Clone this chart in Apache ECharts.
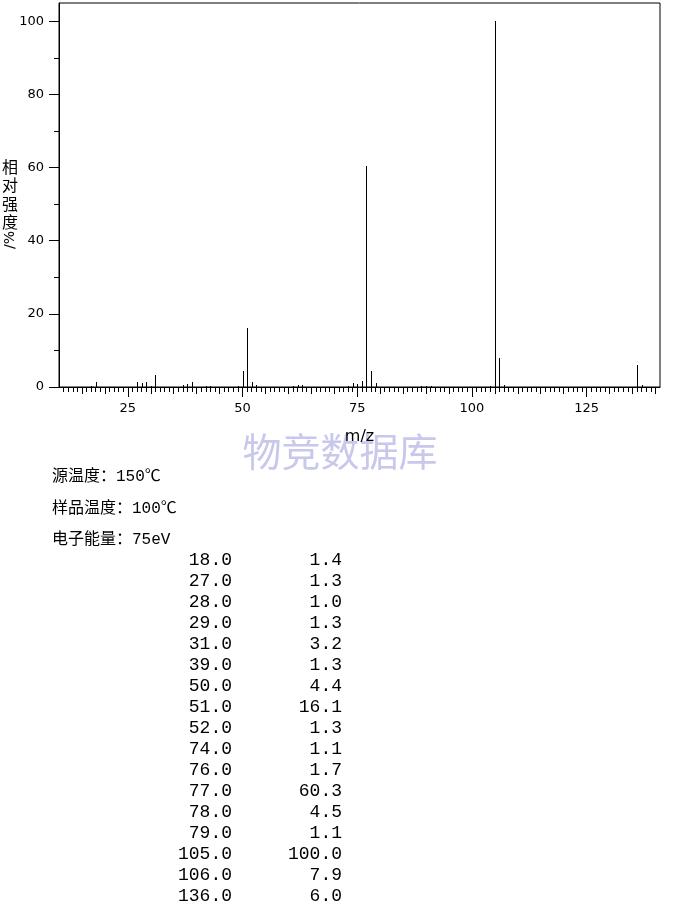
<!DOCTYPE html>
<html>
<head>
<meta charset="utf-8">
<script src="https://cdn.jsdelivr.net/npm/echarts@6/dist/echarts.min.js"></script>
<style>
html,body{margin:0;padding:0;background:#fff;}
#chart{width:680px;height:907px;}
</style>
</head>
<body>
<div id="chart"></div>
<script>
// Listed peaks (m/z, relative intensity %)
const tableMz = [18.0, 27.0, 28.0, 29.0, 31.0, 39.0, 50.0, 51.0, 52.0, 74.0, 76.0, 77.0, 78.0, 79.0, 105.0, 106.0, 136.0];
const tableIntensity = [1.4, 1.3, 1.0, 1.3, 3.2, 1.3, 4.4, 16.1, 1.3, 1.1, 1.7, 60.3, 4.5, 1.1, 100.0, 7.9, 6.0];
// Small peaks visible in the spectrum but not listed
const minorMz = [17, 30, 37, 38, 42, 43, 49, 53, 61, 62, 63, 73, 75, 89, 90, 91, 104, 107, 137];
const minorIntensity = [0.4, 0.4, 0.6, 0.8, 0.4, 0.4, 0.4, 0.5, 0.3, 0.6, 0.5, 0.4, 0.7, 0.3, 0.4, 0.4, 0.4, 0.5, 0.5];
// Axis ticks
const xMajorTicks = [25, 50, 75, 100, 125];
const yMajorTicks = [0, 20, 40, 60, 80, 100];
const yMinorTicks = [10, 30, 50, 70, 90];
const xMin = 10, xMax = 141, yMin = 0, yMax = 105;
// Texts
const yName = ['相', '对', '强', '度'];
const yNameUnit = '/%';
const infoLines = ['源温度：150℃', '样品温度：100℃', '电子能量：75eV'];
const watermark = '物竞数据库';

const xMidTicks = [], xMinorTicks = [];
for (let v = xMin + 1; v < xMax; v++) {
  if (v % 25 === 0) continue;
  if (v % 5 === 0) xMidTicks.push(v); else xMinorTicks.push(v);
}

const peaks = [];
tableMz.forEach((m, i) => peaks.push([m, tableIntensity[i]]));
minorMz.forEach((m, i) => peaks.push([m, minorIntensity[i]]));

const chart = echarts.init(document.getElementById('chart'), null, {renderer: 'canvas'});

const baseX = {
  type: 'value', min: xMin, max: xMax, position: 'bottom', offset: 0,
  splitLine: {show: false}
};
const baseY = {
  type: 'value', min: yMin, max: yMax, position: 'left', offset: 0,
  splitLine: {show: false}
};

const graphics = [];
graphics.push({
  type: 'text', left: 'center', top: 432, z: 0,
  style: {text: watermark, fill: '#c8c8ec', font: '39px "Noto Sans CJK SC"'}
});
graphics.push({
  type: 'text', x: 10, y: 157.5, z: 10,
  style: {text: yName.join('\n'), align: 'center', verticalAlign: 'top', lineHeight: 18.5, fill: '#000', font: '16px "Noto Sans CJK SC"'}
});
graphics.push({
  type: 'text', x: 10, y: 240, rotation: Math.PI / 2, z: 10,
  style: {text: yNameUnit, align: 'center', verticalAlign: 'middle', fill: '#000', font: '14px "DejaVu Sans"'}
});
infoLines.forEach((t, i) => {
  graphics.push({
    type: 'text', x: 52, y: [477, 509, 540][i], z: 10,
    style: {text: t, align: 'left', verticalAlign: 'middle', fill: '#000', font: '16px "Liberation Mono", "Noto Sans CJK SC"'}
  });
});
tableMz.forEach((m, i) => {
  graphics.push({
    type: 'text', x: 232, y: 560 + 21 * i, z: 10,
    style: {text: m.toFixed(1), align: 'right', verticalAlign: 'middle', fill: '#000', font: '18px "Liberation Mono"'}
  });
  graphics.push({
    type: 'text', x: 342, y: 560 + 21 * i, z: 10,
    style: {text: tableIntensity[i].toFixed(1), align: 'right', verticalAlign: 'middle', fill: '#000', font: '18px "Liberation Mono"'}
  });
});

chart.setOption({
  animation: false,
  backgroundColor: '#fff',
  grid: {left: 59, right: 20, top: 3, bottom: 520, show: true, borderColor: '#000', borderWidth: 1, backgroundColor: 'transparent', containLabel: false},
  xAxis: [
    Object.assign({}, baseX, {
      axisLine: {show: true, lineStyle: {color: '#000', width: 1}},
      axisTick: {show: true, customValues: xMinorTicks, length: 5, lineStyle: {color: '#000'}},
      axisLabel: {show: false}
    }),
    Object.assign({}, baseX, {
      axisLine: {show: false},
      axisTick: {show: true, customValues: xMidTicks, length: 7, lineStyle: {color: '#000'}},
      axisLabel: {show: false}
    }),
    Object.assign({}, baseX, {
      axisLine: {show: false},
      axisTick: {show: true, customValues: xMajorTicks, length: 10, lineStyle: {color: '#000'}},
      axisLabel: {show: true, customValues: xMajorTicks, margin: 15, color: '#000', fontSize: 13, fontFamily: 'DejaVu Sans'},
      name: 'm/z', nameLocation: 'middle', nameGap: 42,
      nameTextStyle: {color: '#000', fontSize: 16, fontFamily: 'DejaVu Sans'}
    })
  ],
  yAxis: [
    Object.assign({}, baseY, {
      axisLine: {show: true, lineStyle: {color: '#000', width: 1}},
      axisTick: {show: true, customValues: yMajorTicks, length: 10, lineStyle: {color: '#000'}},
      axisLabel: {show: true, customValues: yMajorTicks, margin: 15, color: '#000', fontSize: 13, fontFamily: 'DejaVu Sans'}
    }),
    Object.assign({}, baseY, {
      axisLine: {show: false},
      axisTick: {show: true, customValues: yMinorTicks, length: 5, lineStyle: {color: '#000'}},
      axisLabel: {show: false}
    })
  ],
  graphic: graphics,
  series: [{
    type: 'custom',
    xAxisIndex: 0, yAxisIndex: 0,
    data: peaks,
    clip: true,
    renderItem: function (params, api) {
      const x = api.value(0), y = api.value(1);
      const p0 = api.coord([x, 0]);
      const p1 = api.coord([x, y]);
      const px = Math.round(p0[0]) + 0.5;
      return {
        type: 'line',
        shape: {x1: px, y1: Math.round(p0[1]), x2: px, y2: Math.round(p1[1])},
        style: {stroke: '#000', lineWidth: 1}
      };
    }
  }]
});
</script>
</body>
</html>
